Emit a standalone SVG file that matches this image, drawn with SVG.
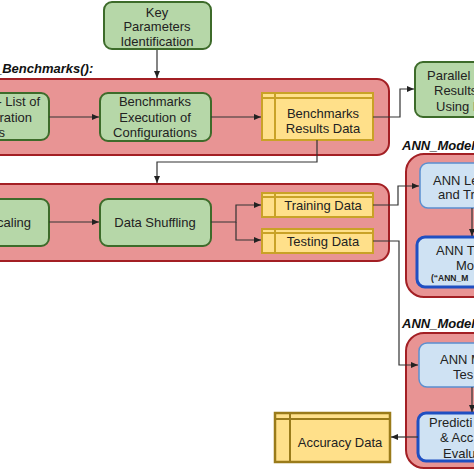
<svg xmlns="http://www.w3.org/2000/svg" width="474" height="474" viewBox="0 0 474 474">
<defs>
<marker id="ah" markerWidth="7" markerHeight="6" refX="7" refY="3" orient="auto" markerUnits="userSpaceOnUse">
<path d="M0,0 L7,3 L0,6 z" fill="#222"/>
</marker>
</defs>
<style>
.cont{fill:#e89494;stroke:#a31f24;stroke-width:2}
.green rect{fill:#b6d7a8;stroke:#3d6b2a;stroke-width:2}
.blue rect{fill:#cfe2f3;stroke:#5b8fd0;stroke-width:1.5}
.dblue rect{fill:#cfe2f3;stroke:#1f4fc2;stroke-width:3}
.store rect,.store line{fill:#ffe08a;stroke:#c9a227;stroke-width:2}
text{font-family:"Liberation Sans",Arial,sans-serif;font-size:13px;fill:#222}
.c{text-anchor:middle}
.e{text-anchor:end}
.lbl{font-weight:bold;font-style:italic;font-size:13px;fill:#111}
.conn path{fill:none;stroke:#333;stroke-width:1.2;marker-end:url(#ah)}
</style>

<g id="containers">
<rect class="cont" x="-20" y="79" width="409" height="76" rx="12"/>
<rect class="cont" x="-20" y="184" width="409" height="77" rx="12"/>
<rect class="cont" x="406" y="154" width="100" height="143" rx="18"/>
<rect class="cont" x="406" y="333" width="100" height="135" rx="18"/>
<text class="lbl" x="-5" y="73">_Benchmarks():</text>
<text class="lbl" x="402" y="150">ANN_Model</text>
<text class="lbl" x="402" y="328">ANN_Model</text>
</g>

<g id="key-params" class="green">
<rect x="104" y="2" width="107" height="47" rx="8"/>
<text class="c" x="157" y="17">Key</text>
<text class="c" x="157" y="31">Parameters</text>
<text class="c" x="157" y="46">Identification</text>
</g>

<g id="list-config" class="green">
<rect x="-60" y="93" width="109" height="47" rx="8"/>
<text class="e" x="40" y="106">- List of</text>
<text class="e" x="32" y="122">ration</text>
<text class="e" x="5" y="137">s</text>
</g>

<g id="bench-exec" class="green">
<rect x="100" y="93" width="111" height="48" rx="8"/>
<text class="c" x="155" y="106">Benchmarks</text>
<text class="c" x="155" y="122">Execution of</text>
<text class="c" x="155" y="137">Configurations</text>
</g>

<g id="bench-results" class="store">
<rect x="262" y="93" width="111" height="47"/>
<line x1="262" y1="98" x2="373" y2="98"/>
<line x1="275" y1="93" x2="275" y2="140"/>
<text class="c" x="323" y="118">Benchmarks</text>
<text class="c" x="323" y="133">Results Data</text>
</g>

<g id="parallel" class="green">
<rect x="415" y="62" width="80" height="55" rx="8"/>
<text x="427" y="80">Parallel</text>
<text x="434" y="95">Results</text>
<text x="436" y="111">Using I</text>
</g>

<g id="scaling" class="green">
<rect x="-60" y="199" width="109" height="47" rx="8"/>
<text class="e" x="31" y="227">caling</text>
</g>

<g id="shuffling" class="green">
<rect x="100" y="199" width="111" height="47" rx="8"/>
<text class="c" x="155" y="227">Data Shuffling</text>
</g>

<g id="training-data" class="store">
<rect x="262" y="193" width="111" height="24"/>
<line x1="262" y1="197" x2="373" y2="197"/>
<line x1="275" y1="193" x2="275" y2="217"/>
<text class="c" x="323" y="210">Training Data</text>
</g>

<g id="testing-data" class="store">
<rect x="262" y="229" width="111" height="24"/>
<line x1="262" y1="233" x2="373" y2="233"/>
<line x1="275" y1="229" x2="275" y2="253"/>
<text class="c" x="323" y="246">Testing Data</text>
</g>

<g id="ann-learning" class="blue">
<rect x="420" y="163" width="100" height="45" rx="8"/>
<text x="433" y="185">ANN Le</text>
<text x="438" y="199">and Tr</text>
</g>

<g id="ann-trained" class="dblue">
<rect x="417" y="237" width="100" height="50" rx="8"/>
<text x="436" y="255">ANN T</text>
<text x="456" y="270">Mo</text>
<text x="431" y="281" style="font-size:8.5px;font-weight:bold">(“ANN_M</text>
</g>

<g id="ann-testing" class="blue">
<rect x="419" y="343" width="100" height="44" rx="8"/>
<text x="440" y="364">ANN M</text>
<text x="453" y="379">Tes</text>
</g>

<g id="prediction" class="dblue">
<rect x="418" y="413" width="100" height="48" rx="8"/>
<text x="429" y="427">Predicti</text>
<text x="440" y="442">&amp; Acc</text>
<text x="443" y="458">Evalu</text>
</g>

<g id="accuracy" class="store">
<rect x="275" y="413" width="115" height="49" style="stroke:#9a7b1a;stroke-width:2.5"/>
<line x1="275" y1="419" x2="390" y2="419" style="stroke:#9a7b1a"/>
<line x1="290" y1="413" x2="290" y2="462" style="stroke:#9a7b1a"/>
<text class="c" x="340" y="447">Accuracy Data</text>
</g>

<g id="connectors" class="conn">
<path d="M157,50 V78"/>
<path d="M49,117 H99"/>
<path d="M211,117 H261"/>
<path d="M373,117 H400 V89 H414"/>
<path d="M317,140 V162 H157 V183"/>
<path d="M49,222 H99"/>
<path d="M211,222 H236 V205 H261"/>
<path d="M236,222 V240 H261"/>
<path d="M373,205 H398 V186 H419"/>
<path d="M373,241 H399 V365 H418"/>
<path d="M472,208 V236"/>
<path d="M472,387 V412"/>
<path d="M418,437 H391"/>
</g>
</svg>
